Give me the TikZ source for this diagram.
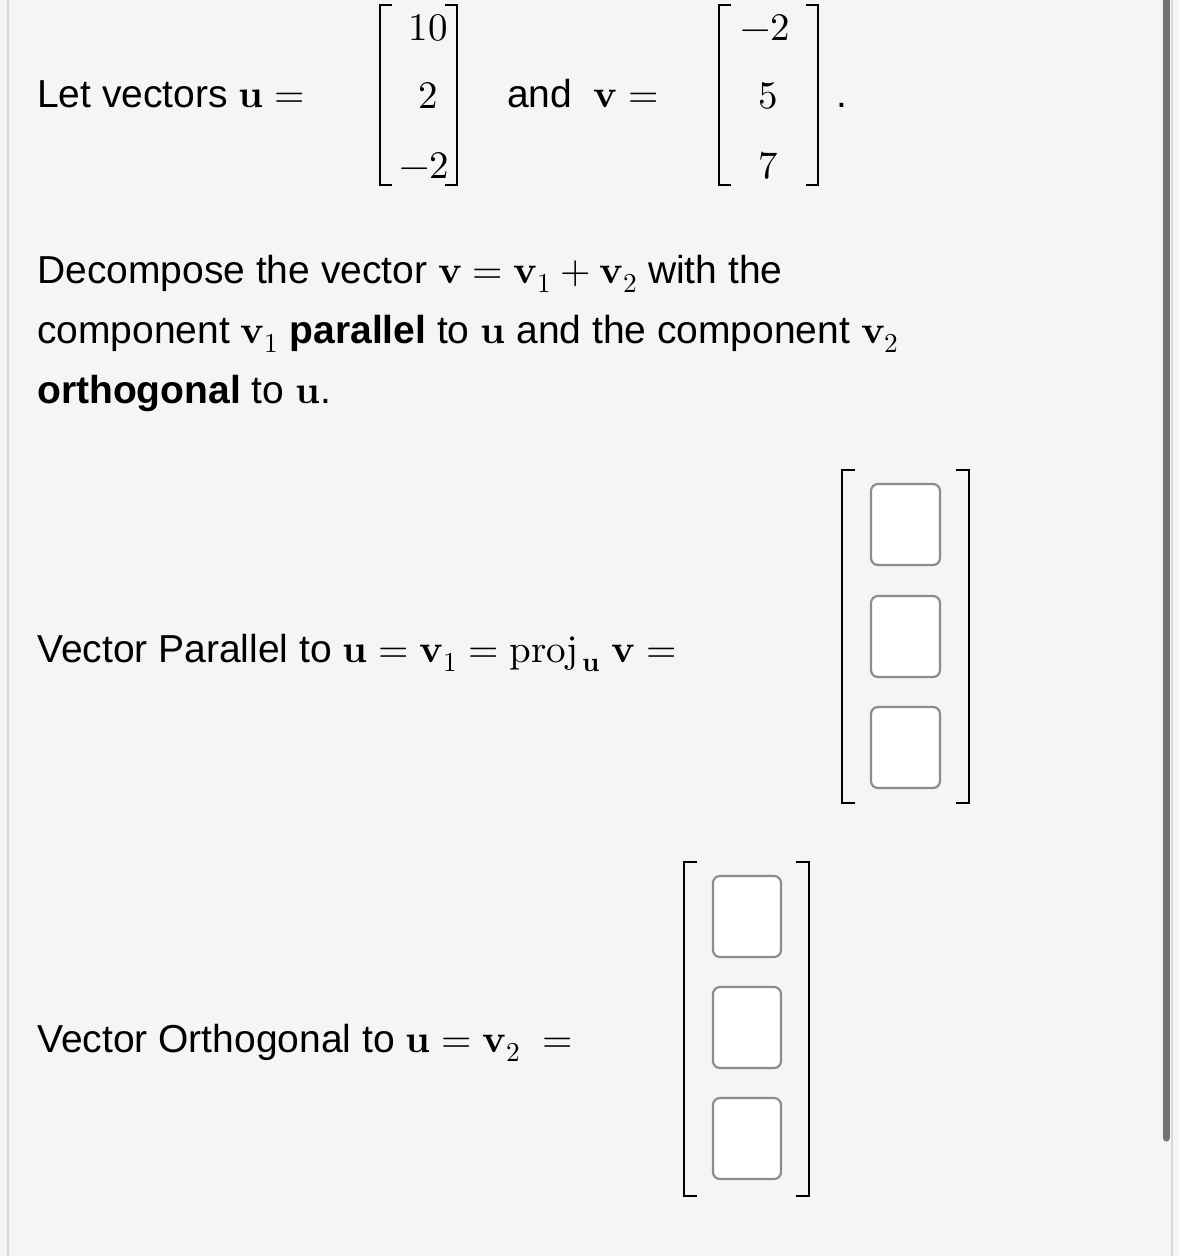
\documentclass[tikz,border=0pt]{standalone}
\usepackage{amsmath}
\usepackage{unicode-math}
\setmainfont{Liberation Sans}
\setmathfont{Latin Modern Math}
\begin{document}
\begin{tikzpicture}[x=1pt,y=-1pt,
  txt/.style={anchor=base west,inner sep=0pt,font=\fontsize{39}{46}\selectfont},
  ent/.style={anchor=base,inner sep=0pt,font=\fontsize{39}{46}\selectfont},
  ansbox/.style={draw=black!45,line width=2.2pt,rounded corners=7pt,fill=white},
  brk/.style={line width=2.4pt}]
\useasboundingbox (0,0) rectangle (1179,1256);
\fill[black!4] (0,0) rectangle (1179,1256);
\draw[black!15,line width=1.5pt] (8,0) -- (8,1256);
\draw[black!15,line width=1.5pt] (1172,0) -- (1172,1256);
\draw[black!55,line width=7pt,line cap=round] (1166,0) -- (1166,1138);
% row 1
\node[txt] (let) at (37,107) {Let vectors $\symbf{u} =$};
\draw[brk] (392,5) -- (380,5) -- (380,185) -- (392,185);
\draw[brk] (445,5) -- (457,5) -- (457,185) -- (445,185);
\node[ent] (u1) at (428,40) {$10$};
\node[ent] (u2) at (428,108) {$2$};
\node[ent] (u3) at (424,178) {$-2$};
\node[txt] (and) at (507,107) {and \ $\symbf{v} =$};
\draw[brk] (731,5) -- (719,5) -- (719,185) -- (731,185);
\draw[brk] (806,5) -- (818,5) -- (818,185) -- (806,185);
\node[ent] (v1) at (765,40) {$-2$};
\node[ent] (v2) at (768,108) {$5$};
\node[ent] (v3) at (768,178) {$7$};
\node[txt] (dot) at (836,107) {.};
% paragraph
\node[txt] (p1) at (37,283) {Decompose the vector $\symbf{v} = \symbf{v}_1 + \symbf{v}_2$ with the};
\node[txt] (p2) at (37,343) {component $\symbf{v}_1$ \textbf{parallel} to $\symbf{u}$ and the component $\symbf{v}_2$};
\node[txt] (p3) at (37,403) {\textbf{orthogonal} to $\symbf{u}$.};
% parallel
\node[txt] (par) at (37,662) {Vector Parallel to $\symbf{u} = \symbf{v}_1 = \symup{proj}_{\,\symbf{u}}\ \symbf{v} =$};
\draw[brk] (855,470) -- (842,470) -- (842,803) -- (855,803);
\draw[brk] (956,470) -- (969,470) -- (969,803) -- (956,803);
\draw[ansbox] (871,484) rectangle (940,565);
\draw[ansbox] (871,596) rectangle (940,677);
\draw[ansbox] (871,707) rectangle (940,788);
% orthogonal
\node[txt] (ort) at (37,1052) {Vector Orthogonal to $\symbf{u} = \symbf{v}_2 \ =$};
\draw[brk] (697,862) -- (684,862) -- (684,1196) -- (697,1196);
\draw[brk] (796,862) -- (809,862) -- (809,1196) -- (796,1196);
\draw[ansbox] (713,876) rectangle (781,957);
\draw[ansbox] (713,987) rectangle (781,1068);
\draw[ansbox] (713,1098) rectangle (781,1179);
\end{tikzpicture}
\end{document}
